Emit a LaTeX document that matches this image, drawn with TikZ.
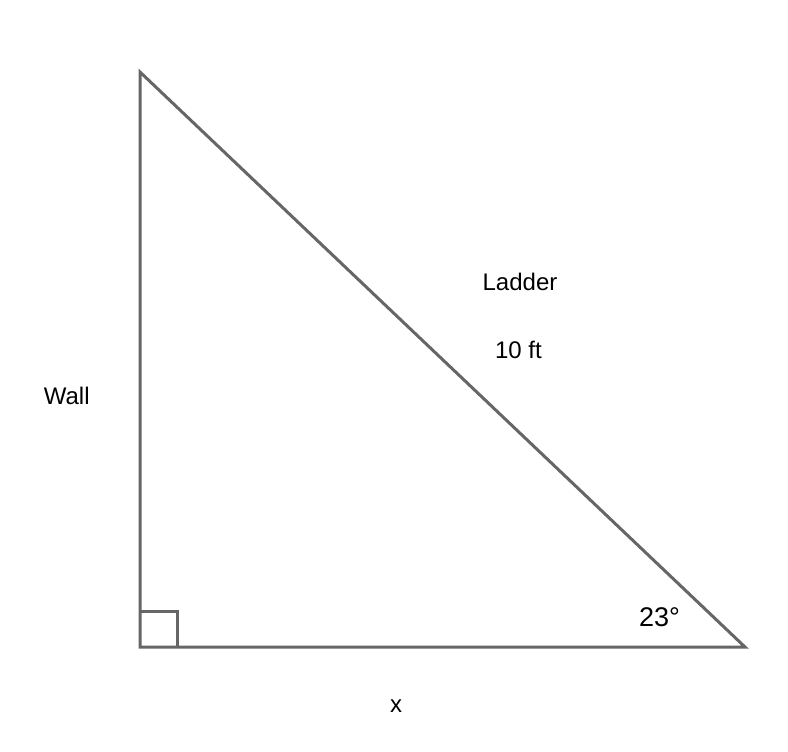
\documentclass[tikz,border=0pt]{standalone}
\usepackage{fontspec}
\setmainfont{Liberation Sans}
\definecolor{edgegray}{HTML}{666666}
\begin{document}
\begin{tikzpicture}[x=1pt,y=-1pt,
  edge/.style={draw=edgegray,line width=3pt,line join=miter},
  lbl/.style={inner sep=0pt,anchor=base,font=\fontsize{24}{28}\selectfont},
  anglbl/.style={inner sep=0pt,anchor=base west,font=\fontsize{27}{32}\selectfont}]
\useasboundingbox (0,0) rectangle (788,752);
\coordinate (T) at (140,72);
\coordinate (BL) at (140,647);
\coordinate (BR) at (745,647);
\coordinate (S1) at (177,647);
\coordinate (S2) at (177,611);
\coordinate (S3) at (140,611);
\draw[edge] (T) -- (BL) -- (BR) -- cycle;
\draw[edge] (S3) -- (S2) -- (S1);
\node[lbl] (ladder) at (520,290) {Ladder};
\node[lbl] (len) at (518.5,358) {10 ft};
\node[lbl] (wall) at (66.7,404) {Wall};
\node[lbl] (xlbl) at (396,712) {x};
\node[anglbl] (ang) at (639,626) {23°};
\end{tikzpicture}
\end{document}
